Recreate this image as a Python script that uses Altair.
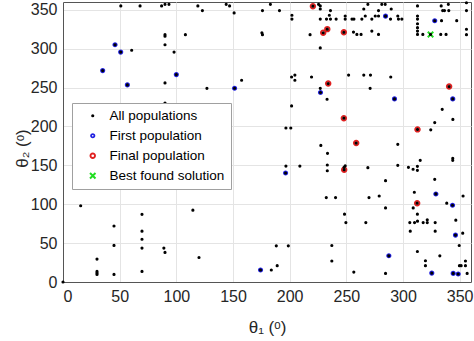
import altair as alt
import pandas as pd

# All populations (black dots) - positions
all_x = [51, 68, 87, 90, 93.5, 119, 90, 90, 108, 90, 60.6, 98, 90, 90,
         123, 144, 147, 151, 183, 176, 191, 202, 202, 175.5, 176, 218, 227, 227, 225.5,
         236, 235, 236, 232.5, 227, 227, 204.6, 201.7, 204.6, 219.3, 157.6, 127, 227,
         233, 201.7, 143, 196.7, 201,
         241, 249, 249, 255, 256.7, 265.4, 269, 266.7, 263.7, 275.5, 278.4, 272.5, 278.4,
         281.3, 284.3, 289.6, 289, 295.4, 296, 299, 312.8, 312.8, 312.8, 312.8, 312.8,
         312.8, 312.8, 317.5, 333.7, 340, 335, 336.6, 340.4, 334, 347.4, 333.3, 338,
         356, 356, 356, 356, 256.3, 259.3, 263, 272.5, 278.4, 252, 265.4, 271.3, 289.2,
         271, 334.6, 328, 344, 324.5, 295.4,
         15.6, 30, 30, 30, 30, 45, 45, 45, 69.7, 69.7, 69.7, 69.7, 69.7, 89, 90, 114.6,
         120, 0,
         227.5, 233.4, 196.7, 209, 233.2, 233.2, 232.3, 188.2, 198.8, 237.2, 189, 183.8,
         237.2,
         249, 248, 269, 295.4, 304.8, 308.9, 312.7, 312.7, 315.2, 343.9, 343.9, 284.6,
         240.5, 270, 279, 310, 328, 353, 338.6, 248.4, 249.6, 267.2, 284.6, 309, 312.7,
         306, 310.2, 312.8, 317.8, 321.4, 321.4, 328.4, 346.6, 306.4, 328.4, 352.7, 349.6,
         312.7, 332.5, 319.8, 319.8, 256.6, 284.6, 349.8, 351.3, 355.1, 355.1, 356.6]
all_y = [355, 355, 355, 357, 357, 355, 318, 316, 318, 305, 298, 295.6, 256, 230,
         349, 357, 355, 346, 357, 349, 349, 343, 338, 320.5, 318, 318, 355, 351, 357,
         349, 343, 338, 338, 338, 301, 266, 263.6, 259.4, 263.6, 259.4, 249, 249,
         235, 226.4, 214, 198, 198,
         338, 342, 338, 338, 338, 351, 357, 342, 338, 342, 342, 338, 349,
         357, 357, 351, 338, 342, 338, 338, 355, 342, 338, 332, 327,
         322.6, 318.3, 318.3, 355, 357, 349, 349, 349, 336, 336, 318.3, 318.3,
         359, 349, 325, 318, 321.3, 318.3, 318.3, 322.6, 318.3, 266, 266, 266, 263.6,
         249, 222, 205, 209, 195.6, 177,
         98, 29.5, 13.6, 11.5, 9.7, 72, 47, 9.7, 87, 65.4, 55, 43.6, 13.6, 43.6, 38, 92.3,
         31.5, 0,
         175.6, 165.4, 149, 149, 150.4, 143, 108.5, 46.5, 46.5, 46.9, 21, 15.4,
         27,
         149.5, 147.4, 147, 150, 147.4, 145, 148.7, 143.6, 156.4, 159, 156.4, 130.3,
         108.5, 108.5, 110.6, 115.4, 132, 110.6, 101.3, 87.2, 76.4, 76.4, 95.3, 95.3, 87.2,
         76.4, 76.4, 78.2, 76.4, 80, 76.4, 76.4, 79.5, 65.4, 65.4, 62.8, 46.9,
         39.2, 33.7, 27.3, 21, 12.8, 11, 21, 21, 27, 21, 11]

# First population (blue circles)
first_x = [45.9, 50.9, 35, 100, 56.8, 151.4, 227.2, 284.6, 328, 292.5, 343.9, 196.4,
           174.3, 329, 343.7, 346.3, 287.5, 325.4, 344.3, 348.7]
first_y = [305, 295.6, 271.8, 266.7, 253.4, 249.1, 243.6, 341.8, 335.9, 235.4, 235.4,
           140.1, 15.4, 113.2, 98.7, 60.3, 33.7, 11.5, 11, 10.3]

# Final population (red circles)
final_x = [220.5, 233.2, 229.6, 247.8, 234, 340.7, 247.8, 312.8, 258.7, 248.1, 312.5]
final_y = [354.6, 325.1, 320.5, 321, 255.1, 251.3, 210.6, 196.2, 178.6, 144.4, 101.3]

# Best found solution (green cross)
best_x = [324.3]
best_y = [318.3]

series = ["All populations", "First population", "Final population", "Best found solution"]
colors = ["#000000", "#2020e0", "#e02020", "#22dd22"]
tick_vals = [0, 50, 100, 150, 200, 250, 300, 350]

rows = []
for x, y in zip(first_x, first_y):
    rows.append({"t1": x, "t2": y, "series": series[1], "ord": 1})
for x, y in zip(final_x, final_y):
    rows.append({"t1": x, "t2": y, "series": series[2], "ord": 1})
for x, y in zip(best_x, best_y):
    rows.append({"t1": x, "t2": y, "series": series[3], "ord": 1})
for x, y in zip(all_x + first_x + final_x + best_x, all_y + first_y + final_y + best_y):
    rows.append({"t1": x, "t2": y, "series": series[0], "ord": 2})
df = pd.DataFrame(rows)

xshape = "M-1,-1L1,1M-1,1L1,-1"
FONT = "Liberation Sans"

chart = alt.Chart(df).mark_point(filled=False, opacity=1).encode(
    x=alt.X("t1:Q", scale=alt.Scale(domain=[0, 360], nice=False, zero=False),
            axis=alt.Axis(values=tick_vals, title="θ₁ (ᵒ)", titleX=204, titleY=50,
                          titleBaseline="alphabetic", labelPadding=6)),
    y=alt.Y("t2:Q", scale=alt.Scale(domain=[0, 360], nice=False, zero=False),
            axis=alt.Axis(values=tick_vals, title="θ₂ (ᵒ)", titleX=-36, titleY=146,
                          titleAngle=-90, titleBaseline="alphabetic", labelPadding=6)),
    color=alt.Color("series:N", scale=alt.Scale(domain=series, range=colors),
                    legend=alt.Legend(title=None, orient="none", legendX=9, legendY=101,
                                      fillColor="white", strokeColor="#a0a0a0",
                                      padding=6, rowPadding=5, labelFontSize=13.5,
                                      labelFont=FONT, labelColor="#000000",
                                      labelOffset=10, symbolOffset=8)),
    shape=alt.Shape("series:N", scale=alt.Scale(domain=series,
                                                range=["circle", "circle", "circle", xshape])),
    size=alt.Size("series:N", scale=alt.Scale(domain=series, range=[2.5, 30, 30, 60])),
    strokeWidth=alt.StrokeWidth("series:N", scale=alt.Scale(domain=series, range=[1.6, 2, 2, 3])),
    order=alt.Order("ord:Q"),
).properties(
    width=408, height=280,
    background="white",
    autosize=alt.AutoSizeParams(type="none"),
    padding={"left": 63, "top": 2, "right": 3, "bottom": 59},
).configure_view(
    stroke="#555555", strokeWidth=1
).configure_axis(
    grid=True, gridColor="#e4e4e4", gridWidth=1,
    domainColor="#555555", domainWidth=1,
    ticks=False,
    labelFont=FONT, labelFontSize=16, labelColor="#262626",
    titleFont=FONT, titleFontSize=17, titleColor="#262626", titleFontWeight="normal",
)

chart.save("out.html", embed_options={"renderer": "svg", "actions": False})
